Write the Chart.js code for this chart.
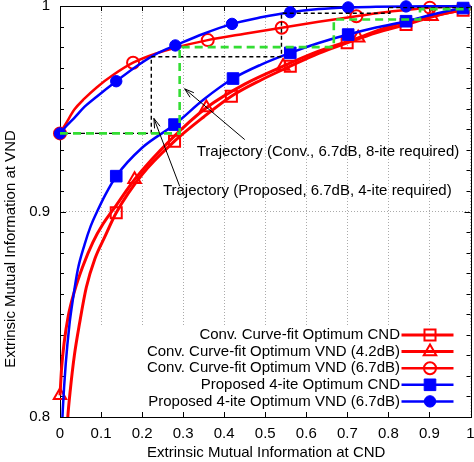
<!DOCTYPE html>
<html><head><meta charset="utf-8">
<script src="https://cdn.jsdelivr.net/npm/chart.js@4.4.1/dist/chart.umd.min.js"></script>
<style>html,body{margin:0;padding:0;background:#fff;overflow:hidden}</style>
</head><body>
<canvas id="c" width="474" height="462" style="width:474px;height:462px;display:block"></canvas>
<script>
// ---------- tick labels ----------
const xTickLabels = ['0','0.1','0.2','0.3','0.4','0.5','0.6','0.7','0.8','0.9','1'];
const yTickLabels = ['0.8','0.9','1'];

// ---------- Conv. Curve-fit Optimum CND (red, open squares) ----------
const convCndX = [0.016,0.019,0.025,0.035,0.048,0.064,0.085,0.1085,0.137,0.2,0.279,0.35,0.4175,0.49,0.561,0.63,0.6995,0.77,0.843,0.92,0.982,1.0];
const convCndY = [0.79,0.8,0.813,0.83,0.846,0.863,0.877,0.8874,0.8994,0.918,0.9342,0.946,0.9561,0.964,0.9707,0.977,0.9821,0.987,0.991,0.9955,0.998,0.9985];
const convCndMarks = [0.137,0.279,0.4175,0.561,0.6995,0.843,0.982];

// ---------- Conv. Curve-fit Optimum VND (4.2dB) (red, open triangles) ----------
const convVnd42X = [0,0.004,0.01,0.02,0.035,0.055,0.08,0.105,0.137,0.1817,0.27,0.3566,0.45,0.5435,0.63,0.7264,0.81,0.905,1.0];
const convVnd42Y = [0.8105,0.824,0.836,0.849,0.861,0.873,0.885,0.894,0.903,0.9156,0.935,0.9505,0.962,0.9707,0.978,0.9845,0.9905,0.995,0.999];
const convVnd42Marks = [0,0.1817,0.3566,0.5435,0.7264,0.905];

// ---------- Conv. Curve-fit Optimum VND (6.7dB) (red, open circles) ----------
const convVnd67X = [0,0.015,0.035,0.06,0.09,0.13,0.178,0.239,0.281,0.36,0.45,0.54,0.63,0.722,0.81,0.901,1.0];
const convVnd67Y = [0.938,0.943,0.9496,0.955,0.9605,0.9665,0.9724,0.9772,0.9797,0.9834,0.9865,0.9894,0.9923,0.995,0.9974,0.9992,1.0];
const convVnd67Marks = [0,0.178,0.36,0.54,0.722,0.901];

// ---------- Proposed 4-ite Optimum CND (blue, filled squares) ----------
const propCndX = [0.003,0.0068,0.014,0.023,0.032,0.0434,0.06,0.075,0.0907,0.11,0.137,0.2,0.279,0.35,0.4215,0.49,0.561,0.63,0.702,0.77,0.843,0.92,0.982,1.0];
const propCndY = [0.786,0.8036,0.826,0.845,0.858,0.8718,0.884,0.893,0.9001,0.908,0.9172,0.931,0.9423,0.9545,0.9647,0.9715,0.9772,0.982,0.9861,0.9895,0.9926,0.9965,0.999,0.9995];
const propCndMarks = [0.137,0.279,0.4215,0.561,0.702,0.843,0.982];

// ---------- Proposed 4-ite Optimum VND (6.7dB) (blue, filled circles) ----------
const propVndX = [0,0.015,0.035,0.06,0.09,0.137,0.19,0.239,0.281,0.35,0.419,0.49,0.561,0.63,0.702,0.77,0.843,0.92,1.0];
const propVndY = [0.938,0.9415,0.9456,0.951,0.956,0.9634,0.9712,0.9772,0.9808,0.9865,0.9913,0.9945,0.997,0.9985,0.9993,0.9996,0.9998,0.9999,1.0];
const propVndMarks = [0,0.137,0.281,0.419,0.561,0.702,0.843];

// ---------- Trajectories ----------
const trajConvX = [0,0.2224,0.2224,0.5395,0.5395,0.8037,0.8037,1.0];
const trajConvY = [0.938,0.938,0.9753,0.9753,0.9965,0.9965,0.9992,0.9992];
const trajPropX = [0,0.2915,0.2915,0.667,0.667,0.877,0.877,1.0];
const trajPropY = [0.938,0.938,0.98,0.98,0.9934,0.9934,0.9985,0.9985];

// ---------- annotations (text + arrow, in data coordinates) ----------
const annoTexts = ['Trajectory (Conv., 6.7dB, 8-ite required)','Trajectory (Proposed, 6.7dB, 4-ite required)'];
const annoTextX = [0.333,0.2507];
const annoTextY = [0.9292,0.9099];
const arrowTailX = [0.45,0.2915];
const arrowTailY = [0.935,0.9123];
const arrowHeadX = [0.3037,0.2288];
const arrowHeadY = [0.9597,0.9453];

const legendLabels = ['Conv. Curve-fit Optimum CND','Conv. Curve-fit Optimum VND (4.2dB)','Conv. Curve-fit Optimum VND (6.7dB)','Proposed 4-ite Optimum CND','Proposed 4-ite Optimum VND (6.7dB)'];

const RED = '#ff0000', BLUE = '#0000ff', GREEN = '#33dd33';
const FONT = "15px 'Liberation Sans', Arial, sans-serif";

function pts(xs, ys){ return xs.map((x,i)=>({x:x, y:ys[i]})); }
function markR(marks, r){ return c => (c.raw && marks.some(m=>Math.abs(m-c.raw.x)<1e-9)) ? r : 0; }

const styles = [
  {style:'rect', r:7.8, fill:false, color:RED, lw:3},
  {style:'triangle', r:7.2, fill:false, color:RED, lw:3},
  {style:'circle', r:6, fill:false, color:RED, lw:2.5},
  {style:'rect', r:8.2, fill:true, color:BLUE, lw:2.5},
  {style:'circle', r:5.7, fill:true, color:BLUE, lw:2.5}
];
const seriesX = [convCndX, convVnd42X, convVnd67X, propCndX, propVndX];
const seriesY = [convCndY, convVnd42Y, convVnd67Y, propCndY, propVndY];
const seriesM = [convCndMarks, convVnd42Marks, convVnd67Marks, propCndMarks, propVndMarks];
const orders = [5,4,3,2,1];

const datasets = [];
datasets.push({data:pts(trajPropX,trajPropY), borderColor:GREEN, borderWidth:2.6, borderDash:[8,5], pointRadius:0, tension:0, order:0, clip:10});
datasets.push({data:pts(trajConvX,trajConvY), borderColor:'#000', borderWidth:1.4, borderDash:[4,3], pointRadius:0, tension:0, order:0, clip:10});
for(let i=0;i<5;i++){
  const s = styles[i];
  datasets.push({
    label: legendLabels[i],
    data: pts(seriesX[i], seriesY[i]),
    borderColor: s.color, borderWidth: s.lw,
    cubicInterpolationMode: 'monotone',
    pointStyle: s.style,
    pointRadius: markR(seriesM[i], s.r),
    pointBackgroundColor: s.fill ? s.color : 'rgba(0,0,0,0)',
    pointBorderColor: s.color,
    pointBorderWidth: s.fill ? 1 : 2,
    order: orders[i],
    clip: {left:10, top:10, right:10, bottom:0}
  });
}

function drawMarker(ctx, s, x, y){
  ctx.save();
  ctx.beginPath();
  const r = s.r;
  if(s.style==='rect'){
    const h = Math.SQRT1_2*r; ctx.rect(x-h, y-h, 2*h, 2*h);
  } else if(s.style==='triangle'){
    let a = 0;
    ctx.moveTo(x+Math.sin(a)*r, y-Math.cos(a)*r); a += 2*Math.PI/3;
    ctx.lineTo(x+Math.sin(a)*r, y-Math.cos(a)*r); a += 2*Math.PI/3;
    ctx.lineTo(x+Math.sin(a)*r, y-Math.cos(a)*r); ctx.closePath();
  } else {
    ctx.arc(x, y, r, 0, 2*Math.PI);
  }
  if(s.fill){ ctx.fillStyle = s.color; ctx.fill(); ctx.lineWidth = 1; }
  else ctx.lineWidth = 2;
  ctx.strokeStyle = s.color; ctx.stroke();
  ctx.restore();
}

const decor = {
  id:'decor',
  beforeDatasetsDraw(chart){
    const {ctx, chartArea:a, scales:{x,y}} = chart;
    ctx.save();
    ctx.fillStyle = '#fff';
    ctx.fillRect(a.left+28, a.bottom-90, a.right-a.left-28, 90);
    ctx.strokeStyle = '#000'; ctx.lineWidth = 1;
    ctx.strokeRect(Math.round(a.left)+0.5, Math.round(a.top)+0.5, Math.round(a.right-a.left), Math.round(a.bottom-a.top));
    ctx.beginPath();
    for(let k=0;k<=10;k++){
      const px = Math.round(x.getPixelForValue(k/10))+0.5;
      ctx.moveTo(px, a.bottom); ctx.lineTo(px, a.bottom-5);
      ctx.moveTo(px, a.top); ctx.lineTo(px, a.top+5);
    }
    for(let k=0;k<=20;k++){
      const py = Math.round(y.getPixelForValue(0.8+k/100))+0.5;
      const len = (k%10===0)?6:4;
      ctx.moveTo(a.left, py); ctx.lineTo(a.left+len, py);
      ctx.moveTo(a.right, py); ctx.lineTo(a.right-len, py);
    }
    ctx.stroke();
    ctx.restore();
  },
  afterDraw(chart){
    const {ctx, chartArea:a, scales:{x,y}} = chart;
    ctx.save();
    ctx.font = FONT; ctx.fillStyle = '#000';
    ctx.textAlign = 'right'; ctx.textBaseline = 'middle';
    for(let i=0;i<5;i++){
      const ry = a.bottom - 82 + i*16.6;
      ctx.fillText(legendLabels[i], a.right-70.5, ry);
      ctx.beginPath(); ctx.strokeStyle = styles[i].color; ctx.lineWidth = styles[i].lw;
      ctx.moveTo(a.right-69, ry); ctx.lineTo(a.right-17, ry); ctx.stroke();
      drawMarker(ctx, styles[i], a.right-40.5, ry);
    }
    ctx.textAlign = 'left'; ctx.fillStyle = '#000';
    for(let i=0;i<annoTexts.length;i++){
      ctx.fillText(annoTexts[i], x.getPixelForValue(annoTextX[i]), y.getPixelForValue(annoTextY[i]));
      const tx = x.getPixelForValue(arrowTailX[i]), ty = y.getPixelForValue(arrowTailY[i]);
      const hx = x.getPixelForValue(arrowHeadX[i]), hy = y.getPixelForValue(arrowHeadY[i]);
      ctx.beginPath(); ctx.strokeStyle = '#000'; ctx.lineWidth = 1;
      ctx.moveTo(tx, ty); ctx.lineTo(hx, hy);
      const ang = Math.atan2(ty-hy, tx-hx), L = 10, w = 0.3;
      ctx.moveTo(hx + L*Math.cos(ang+w), hy + L*Math.sin(ang+w)); ctx.lineTo(hx, hy);
      ctx.lineTo(hx + L*Math.cos(ang-w), hy + L*Math.sin(ang-w));
      ctx.stroke();
    }
    ctx.textAlign = 'center'; ctx.textBaseline = 'middle';
    ctx.fillText('Extrinsic Mutual Information at CND', (a.left+a.right)/2+1, a.bottom+36);
    ctx.translate(11, a.top+243); ctx.rotate(-Math.PI/2);
    ctx.fillText('Extrinsic Mutual Information at VND', 0, 0);
    ctx.restore();
  }
};

new Chart(document.getElementById('c'), {
  type:'line',
  data:{datasets},
  options:{
    responsive:false, devicePixelRatio:1, animation:false, events:[],
    layout:{autoPadding:false, padding:{top:6, right:3.5, left:0, bottom:0}},
    plugins:{legend:{display:false}, tooltip:{enabled:false}},
    scales:{
      x:{type:'linear', min:0, max:1,
        afterFit: s => { s.height = 45; s.paddingLeft = 0; s.paddingRight = 0; },
        ticks:{stepSize:0.1, autoSkip:false, maxRotation:0, padding:8, color:'#000', font:{family:"'Liberation Sans', Arial, sans-serif", size:15},
          callback:(v,i)=>xTickLabels[i]},
        grid:{color:'#aaaaaa', lineWidth:1, drawTicks:false},
        border:{display:false, dash:[1,2]}
      },
      y:{type:'linear', min:0.8, max:1,
        afterFit: s => { s.width = 60; s.paddingTop = 0; s.paddingBottom = 0; },
        ticks:{stepSize:0.1, autoSkip:false, padding:10, color:'#000', font:{family:"'Liberation Sans', Arial, sans-serif", size:15},
          callback:(v,i)=>yTickLabels[i]},
        grid:{color:'#aaaaaa', lineWidth:1, drawTicks:false},
        border:{display:false, dash:[1,2]}
      }
    }
  },
  plugins:[decor]
});
</script>
</body></html>
